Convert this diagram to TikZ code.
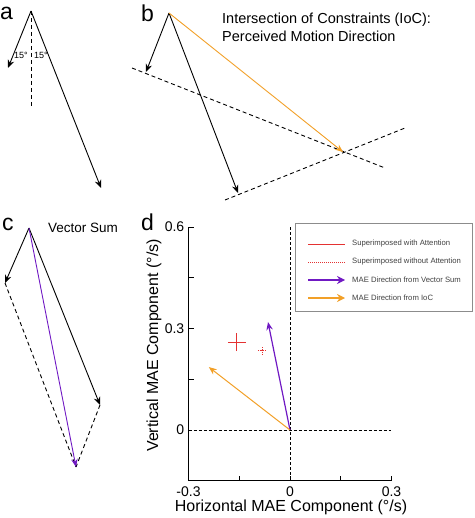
\documentclass[tikz,border=0pt]{standalone}
\usepackage{fontspec}
\setmainfont{Liberation Sans}
\usepackage{tikz}
\definecolor{iocorange}{RGB}{242,160,40}
\definecolor{vspurple}{RGB}{112,25,195}
\definecolor{attred}{RGB}{228,50,50}
\usetikzlibrary{arrows.meta}

\begin{document}
\begin{tikzpicture}[x=1pt, y=-1pt,
			>={Stealth[length=8pt,width=6.5pt]},   %Pfeilspitzen
			vec/.style={->, line width=0.9pt},
			guide/.style={line width=0.9pt, dash pattern=on 4pt off 3pt},
			panel/.style={font=\fontsize{23}{23}\selectfont, anchor=base west, inner sep=0pt},
			title/.style={font=\fontsize{14.5}{14.5}\selectfont, anchor=base west, inner sep=0pt},
			legtext/.style={font=\fontsize{7.7}{7.7}\selectfont, text=black!75, anchor=west, inner sep=0pt},
			ticklbl/.style={font=\fontsize{14}{14}\selectfont, inner sep=0pt}]
			\useasboundingbox (0,0) rectangle (474,518);
			%Teil a: zwei Komponenten
			\node[panel] (lblA) at (0,20) {a};
			\coordinate (a0) at (31,11);
			\coordinate (aL) at (8,68);
			\coordinate (aR) at (101,188);
			\coordinate (aV) at (31,107);
			\draw[guide] (a0) -- (aV);
			\draw[vec] (a0) -- (aL);
			\draw[vec] (a0) -- (aR);
			\node[font=\fontsize{9}{9}\selectfont, inner sep=0pt] (angL) at (21,55) {15°};
			\node[font=\fontsize{9}{9}\selectfont, inner sep=0pt] (angR) at (41,55) {15°};
			%Teil b: IoC
			\node[panel] (lblB) at (141,22) {b};
			\node[title] (iocA) at (222,24) {Intersection of Constraints (IoC):};
			\node[title] (iocB) at (222,42) {Perceived Motion Direction};
			\coordinate (b0) at (169,13);
			\coordinate (bL) at (146,72);
			\coordinate (bR) at (238,193);
			\coordinate (bI) at (343,152);
			\coordinate (c1s) at (132,68);
			\coordinate (c1e) at (385,168);
			\coordinate (c2s) at (225,200);
			\coordinate (c2e) at (405,128);
			\draw[guide] (c1s) -- (c1e);
			\draw[guide] (c2s) -- (c2e);
			\draw[vec] (b0) -- (bL);
			\draw[vec] (b0) -- (bR);
			\draw[vec, iocorange] (b0) -- (bI);
			%Teil c: Vektorsumme
			\node[panel] (lblC) at (2,230) {c};
			\node[title, font=\fontsize{13.5}{13.5}\selectfont] (vsum) at (48,233) {Vector Sum};
			\coordinate (c0) at (29,228);
			\coordinate (cL) at (5,283);
			\coordinate (cR) at (100,405);
			\coordinate (cS) at (76,467);
			\draw[guide] (cL) -- (cS);
			\draw[guide] (cR) -- (cS);
			\draw[vec] (c0) -- (cL);
			\draw[vec] (c0) -- (cR);
			\draw[vec, vspurple] (c0) -- (cS);
			%Teil d: Messdaten
			\node[panel] (lblD) at (141,230) {d};
			\begin{scope}[shift={(290,430)}, x=338.3pt, y=338.3pt]
				% Rahmen und Striche
				\draw[line width=0.8pt] (-0.3,0.6) -- (-0.3,-0.15) -- (0.3,-0.15);
				\foreach \y in {0.15,0.3,0.45,0.6} \draw[line width=0.8pt] (-0.3,\y) -- ++(0.015,0);
				\foreach \x in {-0.15,0,0.15,0.3} \draw[line width=0.8pt] (\x,-0.15) -- ++(0,0.015);
				\foreach \y/\t [count=\i] in {0.6/0.6,0.3/0.3,0/0} \node[ticklbl, anchor=east] (yl\i) at (-0.312,\y) {\t};
				\foreach \x/\t [count=\i] in {-0.3/-0.3,0/0,0.3/0.3} \node[ticklbl, anchor=base] (xl\i) at (\x,-0.198) {\t};
				% Achsentitel
				\node[font=\fontsize{16}{16}\selectfont, inner sep=0pt, anchor=base] (xtitle) at (0.003,-0.24) {Horizontal MAE Component (°/s)};
				\node[font=\fontsize{16}{16}\selectfont, inner sep=0pt, rotate=90] (ytitle) at (-0.402,0.25) {Vertical MAE Component (°/s)};
				% Nulllinien
				\draw[line width=0.8pt, dash pattern=on 3pt off 2pt] (0,0.6) -- (0,-0.15);
				\draw[line width=0.8pt, dash pattern=on 3pt off 2pt] (-0.3,0) -- (0.3,0);
				% Daten
				\coordinate (O) at (0,0);
				\coordinate (withAtt) at (-0.157,0.26);
				\coordinate (noAtt) at (-0.083,0.234);
				\coordinate (vsTip) at (-0.065,0.319);
				\coordinate (iocTip) at (-0.24,0.186);
				\draw[attred, line width=0.9pt] (withAtt) +(-0.027,0) -- +(0.027,0) (withAtt) +(0,-0.027) -- +(0,0.027);
				\draw[attred, line width=0.7pt, dash pattern=on 1pt off 0.8pt] (noAtt) +(-0.012,0) -- +(0.012,0) (noAtt) +(0,-0.012) -- +(0,0.012);
				\draw[vec, line width=1.2pt, vspurple] (O) -- (vsTip);
				\draw[vec, line width=1pt, iocorange] (O) -- (iocTip);
			\end{scope}
			%Legende
			\node[draw=black!45, line width=0.5pt, minimum width=177pt, minimum height=88pt, inner sep=0pt] (legbox) at (383.5,267) {};
			\node[legtext] (leg1) at (352,244) {Superimposed with Attention};
			\node[legtext] (leg2) at (352,262) {Superimposed without Attention};
			\node[legtext] (leg3) at (352,280) {MAE Direction from Vector Sum};
			\node[legtext] (leg4) at (352,298) {MAE Direction from IoC};
			\draw[attred, line width=0.8pt] ([xshift=-44pt]leg1.west) -- ([xshift=-7pt]leg1.west);
			\draw[attred, line width=0.8pt, dash pattern=on 1.2pt off 0.8pt] ([xshift=-44pt]leg2.west) -- ([xshift=-7pt]leg2.west);
			\draw[vspurple, line width=1.2pt, -{Stealth[length=8pt,width=8pt]}] ([xshift=-44pt]leg3.west) -- ([xshift=-7pt]leg3.west);
			\draw[iocorange, line width=1.2pt, -{Stealth[length=8pt,width=8pt]}] ([xshift=-44pt]leg4.west) -- ([xshift=-7pt]leg4.west);
		\end{tikzpicture}
\end{document}
